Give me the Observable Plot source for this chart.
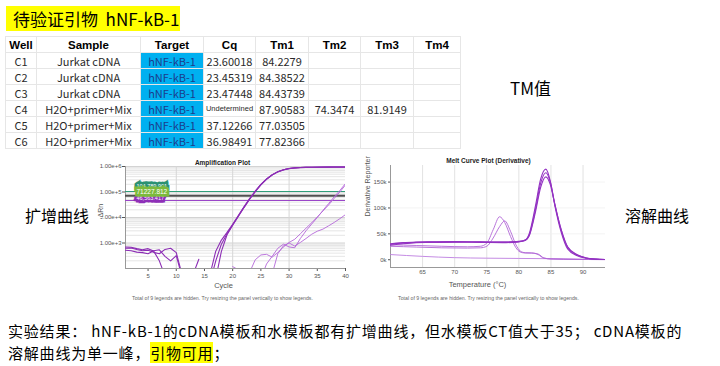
<!DOCTYPE html>
<html><head><meta charset="utf-8">
<script src="https://cdn.jsdelivr.net/npm/d3@7"></script>
<script src="https://cdn.jsdelivr.net/npm/@observablehq/plot@0.6"></script>
<style>
body{margin:0;background:#fff;}
#page{position:relative;width:720px;height:366px;overflow:hidden;font-family:"Noto Sans CJK SC","Noto Sans",sans-serif;color:#000;}
.abs{position:absolute;white-space:nowrap;}
#title{left:6px;top:6px;width:174px;height:25px;background:#ffff00;font-size:17px;line-height:25px;padding-left:7px;box-sizing:border-box;white-space:pre;}
#tbl{position:absolute;left:5px;top:36px;width:455px;border-collapse:collapse;table-layout:fixed;font-size:11px;}
#tbl td,#tbl th{height:15px;padding:0;border:1px solid #e6e6e6;text-align:center;line-height:14px;color:#2a2a2a;font-weight:normal;overflow:hidden;}
#tbl th{font-weight:bold;color:#000;font-family:"Liberation Sans",Arial,sans-serif;font-size:11.5px;}
#tbl .cell{display:flex;justify-content:center;overflow:hidden;white-space:nowrap;}
#tbl .small{font-size:7.5px;font-family:"Liberation Sans",Arial,sans-serif;}
#tbl td.target{background:#00b0f0;color:#1c3d8c;}
#bottom{left:8px;top:320px;font-size:15px;line-height:22px;letter-spacing:0.8px;}
.hl{background:#ffff00;}
</style></head>
<body><div id="page">
<div id="title" class="abs">待验证引物  hNF-kB-1</div>
<table id="tbl"></table>
<div class="abs" style="left:510px;top:77px;font-size:17px;line-height:22px;">TM值</div>
<div class="abs" style="left:25px;top:204px;font-size:16px;line-height:22px;">扩增曲线</div>
<div class="abs" style="left:625px;top:204px;font-size:16px;line-height:22px;">溶解曲线</div>
<div id="amp" class="abs" style="left:90px;top:150px;"></div>
<div id="melt" class="abs" style="left:355px;top:150px;"></div>
<div id="bottom" class="abs">实验结果： hNF-kB-1的cDNA模板和水模板都有扩增曲线，但水模板CT值大于35； cDNA模板的<br>溶解曲线为单一峰，<span class="hl">引物可用</span>；</div>
</div>
<script>
// ---------- table data ----------
const headers = ["Well","Sample","Target","Cq","Tm1","Tm2","Tm3","Tm4"];
const colWidths = [31,104,63,52,53,52,53,47];
const wells = ["C1","C2","C3","C4","C5","C6"];
const samples = ["Jurkat cDNA","Jurkat cDNA","Jurkat cDNA","H2O+primer+Mix","H2O+primer+Mix","H2O+primer+Mix"];
const targets = ["hNF-kB-1","hNF-kB-1","hNF-kB-1","hNF-kB-1","hNF-kB-1","hNF-kB-1"];
const cqs = ["23.60018","23.45319","23.47448","Undetermined","37.12266","36.98491"];
const tm1 = ["84.2279","84.38522","84.43739","87.90583","77.03505","77.82366"];
const tm2 = ["","","","74.3474","",""];
const tm3 = ["","","","81.9149","",""];
const tm4 = ["","","","","",""];

// ---------- amplification data (ΔRn per cycle 1..40, null = no trace) ----------
const cycles = d3.range(1, 41);
const ampC1 = [620,640,560,500,520,430,380,560,620,420, 60,40,60,230,null,30,200,900,2300,5200,
  11500,25000,53000,105000,195000,320000,470000,620000,740000,830000, 880000,910000,925000,935000,940000,945000,948000,950000,950000,952000];
const ampC2 = [700,680,600,540,600,480,200,50,45,50, 50,50,50,50,null,60,480,1300,2600,5400,
  12000,26000,55000,108000,200000,325000,475000,625000,745000,835000, 885000,915000,930000,940000,945000,950000,952000,955000,955000,957000];
const ampC3 = [520,500,440,420,380,500,540,300,200,320, 50,40,40,40,40,40,40,470,2100,5000,
  11000,24500,52000,103000,190000,315000,465000,615000,735000,825000, 875000,905000,920000,930000,935000,940000,943000,945000,945000,947000];
const ampC4 = [null,null,null,null,null,null,null,null,null,null, null,null,null,null,null,null,null,null,null,118,
  90,null,null,null,null,null,60,380,780,1000, 760,1050,1500,2200,2900,3500,4700,6400,9000,13000];
const ampC5 = [null,null,null,null,null,null,null,null,null,null, null,null,null,null,null,null,null,null,null,null,
  null,40,70,220,340,360,280,420,700,1050, 1400,2300,3800,6200,10500,18000,31000,56000,100000,190000];
const ampC6 = [null,null,null,null,null,null,null,null,null,null, null,null,null,null,null,null,null,null,null,null,
  null,null,null,null,40,150,300,620,900,700, 650,1500,3000,5500,10000,19000,35000,65000,115000,215000];
const ampTicksX = [5,10,15,20,25,30,35,40];
const ampTicksY = [1e3,1e4,1e5,1e6];
const ampDomainX = [1, 40];
const ampDomainY = [100, 1e6];
const thresholdValues = [104789.901, 71227.812, 46563.417];
const thresholdLabels = ["104,789.901", "71227.812", "46,563.417"];

// ---------- melt curve data (derivative reporter, thousands) ----------
const meltTempsCdna = [60,62,64,66,70,74,78,80,81,81.6,82.6,83.4,84.2,84.9,85.6,86.6,87.6,89.1,90.5,92,93.5];
const meltC1 = [30,32.5,33.5,34,34.5,34,34,35,38,50,105,156,175,152,105,53,21,7.7,3,1,0.5];
const meltC2 = [28,31,33,33.5,34,33.5,33,34.5,37,47,98,148,168,150,108,57,24,9,3.5,1.2,0.5];
const meltC3 = [31,33,34,34.5,35,34.5,34,35.5,38,46,93,140,160,145,107,58,25,9.5,3.5,1.2,0.5];
const meltTempsWater = [60,64,68,72,74,75,76,77,77.8,78.7,79.5,80.2,81,82,83,83.9,85,87,90,93.5];
const meltC5 = [29,27.5,26,25,26,32,58,83,72,45,24,15,13,13,10,3,1.5,1,0.5,0.3];
const meltC6 = [26,24.5,23,22.5,23,26,42,64,75,55,30,17,13.5,13,11,3.5,1.5,1,0.5,0.3];
const meltTempsC4 = [60,65,70,75,80,85,90,93.5];
const meltC4 = [10,6.5,4,3,2.5,2,1,0.5];
const meltTicksX = [65,70,75,80,85,90];
const meltTicksY = [0,50000,100000,150000];
const meltDomainX = [60, 93.5];
const meltDomainY = [-15000, 182000];

const caption = "Total of 9 legends are hidden. Try resizing the panel vertically to show legends.";

// ---------- build table ----------
const tbl = d3.select("#tbl");
const cg = tbl.append("colgroup");
colWidths.forEach(w => cg.append("col").style("width", w + "px"));
const hr = tbl.append("tr");
headers.forEach((h, j) => hr.append("th").append("div").attr("class","cell").style("width", (colWidths[j] - 1) + "px").text(h));
wells.forEach((w, i) => {
  const tr = tbl.append("tr");
  [w, samples[i], targets[i], cqs[i], tm1[i], tm2[i], tm3[i], tm4[i]].forEach((v, j) => {
    const td = tr.append("td");
    if (j === 2) td.attr("class", "target");
    td.append("div").attr("class", v.length > 10 && j === 3 ? "cell small" : "cell")
      .style("width", (colWidths[j] - 1) + "px").html(v === "" ? "&nbsp;" : v);
  });
});

// ---------- amplification plot ----------
const ampSeries = [
  {well:"C1", kind:"cdna", values: ampC1},
  {well:"C2", kind:"cdna", values: ampC2},
  {well:"C3", kind:"cdna", values: ampC3},
  {well:"C4", kind:"water", values: ampC4},
  {well:"C5", kind:"water", values: ampC5},
  {well:"C6", kind:"water", values: ampC6}
];
const ampData = ampSeries.flatMap(s => s.values.map((v, i) => ({well: s.well, kind: s.kind, cycle: cycles[i], rn: v})));
const minorY = [];
[100,1e3,1e4,1e5].forEach(d => { for (let k = 2; k <= 9; k++) minorY.push(d * k); });
const thr = thresholdValues.map((v, i) => ({v, label: thresholdLabels[i], i}));
const thrColors = ["#2f9d79", "#505050", "#9a46c8"];
const thrBox = ["#2b9173", "#7cba3c", "#8e2fb8"];
const thrDy = [-5.5, -4, -2.5];
const ampColor = {cdna: "#8c2db5", water: "#b468d9"};
const fontFam = "'Liberation Sans', Arial, sans-serif";

const amp = Plot.plot({
  width: 270, height: 160,
  marginLeft: 35, marginRight: 15, marginTop: 16, marginBottom: 42,
  style: {fontFamily: fontFam, fontSize: "6px", color: "#555", background: "transparent", overflow: "visible"},
  x: {domain: ampDomainX, ticks: ampTicksX, tickSize: 3, tickPadding: 2, label: null},
  y: {type: "log", domain: ampDomainY, ticks: ampTicksY, tickFormat: d3.format(".2e"), tickSize: 3, tickPadding: 1, label: null},
  marks: [
    Plot.ruleY(minorY, {stroke: "#dedede", strokeWidth: 0.8}),
    Plot.ruleY(ampTicksY, {stroke: "#c8c8c8", strokeWidth: 0.8}),
    Plot.ruleX([10,20,30], {stroke: "#d6d6d6", strokeWidth: 1}),
    Plot.ruleX([ampDomainX[0]], {stroke: "#999"}),
    Plot.ruleY([ampDomainY[0]], {stroke: "#999"}),
    Plot.ruleY(thr, {y: "v", stroke: d => thrColors[d.i], strokeWidth: d => d.i === 1 ? 2 : 1.1}),
    Plot.line(ampData.filter(d => d.kind === "water"), {x: "cycle", y: "rn", z: "well", stroke: ampColor.water, strokeWidth: 0.9, clip: true}),
    Plot.line(ampData.filter(d => d.kind === "cdna"), {x: "cycle", y: "rn", z: "well", stroke: ampColor.cdna, strokeWidth: 1.1, clip: true}),
    ...[0, 2, 1].map(i => Plot.text([thr[i]], {x: () => 2.95, y: "v", text: "label", dy: thrDy[i], textAnchor: "start",
      fill: "white", stroke: thrBox[i], strokeWidth: 5, strokeLinejoin: "miter", fontSize: i === 1 ? 6.5 : 5.5})),
    Plot.text(["Amplification Plot"], {frameAnchor: "top", dy: -6, dx: -13, fontWeight: "bold", fontSize: 6.5, fill: "#222"}),
    Plot.text(["Cycle"], {frameAnchor: "bottom", dy: 19, dx: -12, fontSize: 7.5, fill: "#555"}),
    Plot.text(["ΔRn"], {frameAnchor: "left", rotate: -90, dx: -25, fontSize: 7, fill: "#555", stroke: "white", strokeWidth: 2}),
    Plot.text([caption], {frameAnchor: "bottom", dy: 31, dx: -13, fontSize: 5.2, fill: "#666"})
  ]
});
document.getElementById("amp").appendChild(amp);

// ---------- melt curve plot ----------
const meltSeries = [
  {well:"C4", kind:"ntc", temps: meltTempsC4, values: meltC4},
  {well:"C5", kind:"water", temps: meltTempsWater, values: meltC5},
  {well:"C6", kind:"water", temps: meltTempsWater, values: meltC6},
  {well:"C1", kind:"cdna", temps: meltTempsCdna, values: meltC1},
  {well:"C2", kind:"cdna", temps: meltTempsCdna, values: meltC2},
  {well:"C3", kind:"cdna", temps: meltTempsCdna, values: meltC3}
];
const meltData = meltSeries.flatMap(s => s.values.map((v, i) => ({well: s.well, kind: s.kind, t: s.temps[i], d: v * 1000})));
const meltColor = {cdna: "#9332c2", water: "#b064d6", ntc: "#bd7ee0"};

const melt = Plot.plot({
  width: 252, height: 160,
  marginLeft: 35, marginRight: 2, marginTop: 15, marginBottom: 43,
  style: {fontFamily: fontFam, fontSize: "6px", color: "#555", background: "transparent", overflow: "visible"},
  x: {domain: meltDomainX, ticks: meltTicksX, tickSize: 0, tickPadding: 2.5, label: null},
  y: {domain: meltDomainY, ticks: meltTicksY, tickFormat: d => d / 1000 + "k", tickSize: 2, tickPadding: 2, label: null},
  marks: [
    Plot.ruleX(meltTicksX, {stroke: "#e2e2e2", strokeWidth: 1}),
    Plot.ruleY(meltTicksY.slice(1), {stroke: "#f0f0f0", strokeWidth: 0.8}),
    Plot.ruleX([meltDomainX[0]], {stroke: "#999"}),
    Plot.ruleY([meltDomainY[0]], {stroke: "#999"}),
    Plot.line(meltData, {x: "t", y: "d", z: "well", stroke: d => meltColor[d.kind], strokeWidth: d => d.kind === "cdna" ? 1.1 : 0.9, curve: "monotone-x", clip: true}),
    Plot.text(["Melt Curve Plot (Derivative)"], {frameAnchor: "top", dy: -7, dx: -9.5, fontWeight: "bold", fontSize: 6.5, fill: "#222"}),
    Plot.text(["Temperature (°C)"], {frameAnchor: "bottom", dy: 19.5, dx: -20.5, fontSize: 7.5, fill: "#555"}),
    Plot.text(["Derivative Reporter"], {frameAnchor: "left", rotate: -90, dx: -23, fontSize: 7, fill: "#555"}),
    Plot.text([caption], {frameAnchor: "bottom", dy: 32, dx: -9.5, fontSize: 5.2, fill: "#666"})
  ]
});
document.getElementById("melt").appendChild(melt);
</script>
</body></html>
